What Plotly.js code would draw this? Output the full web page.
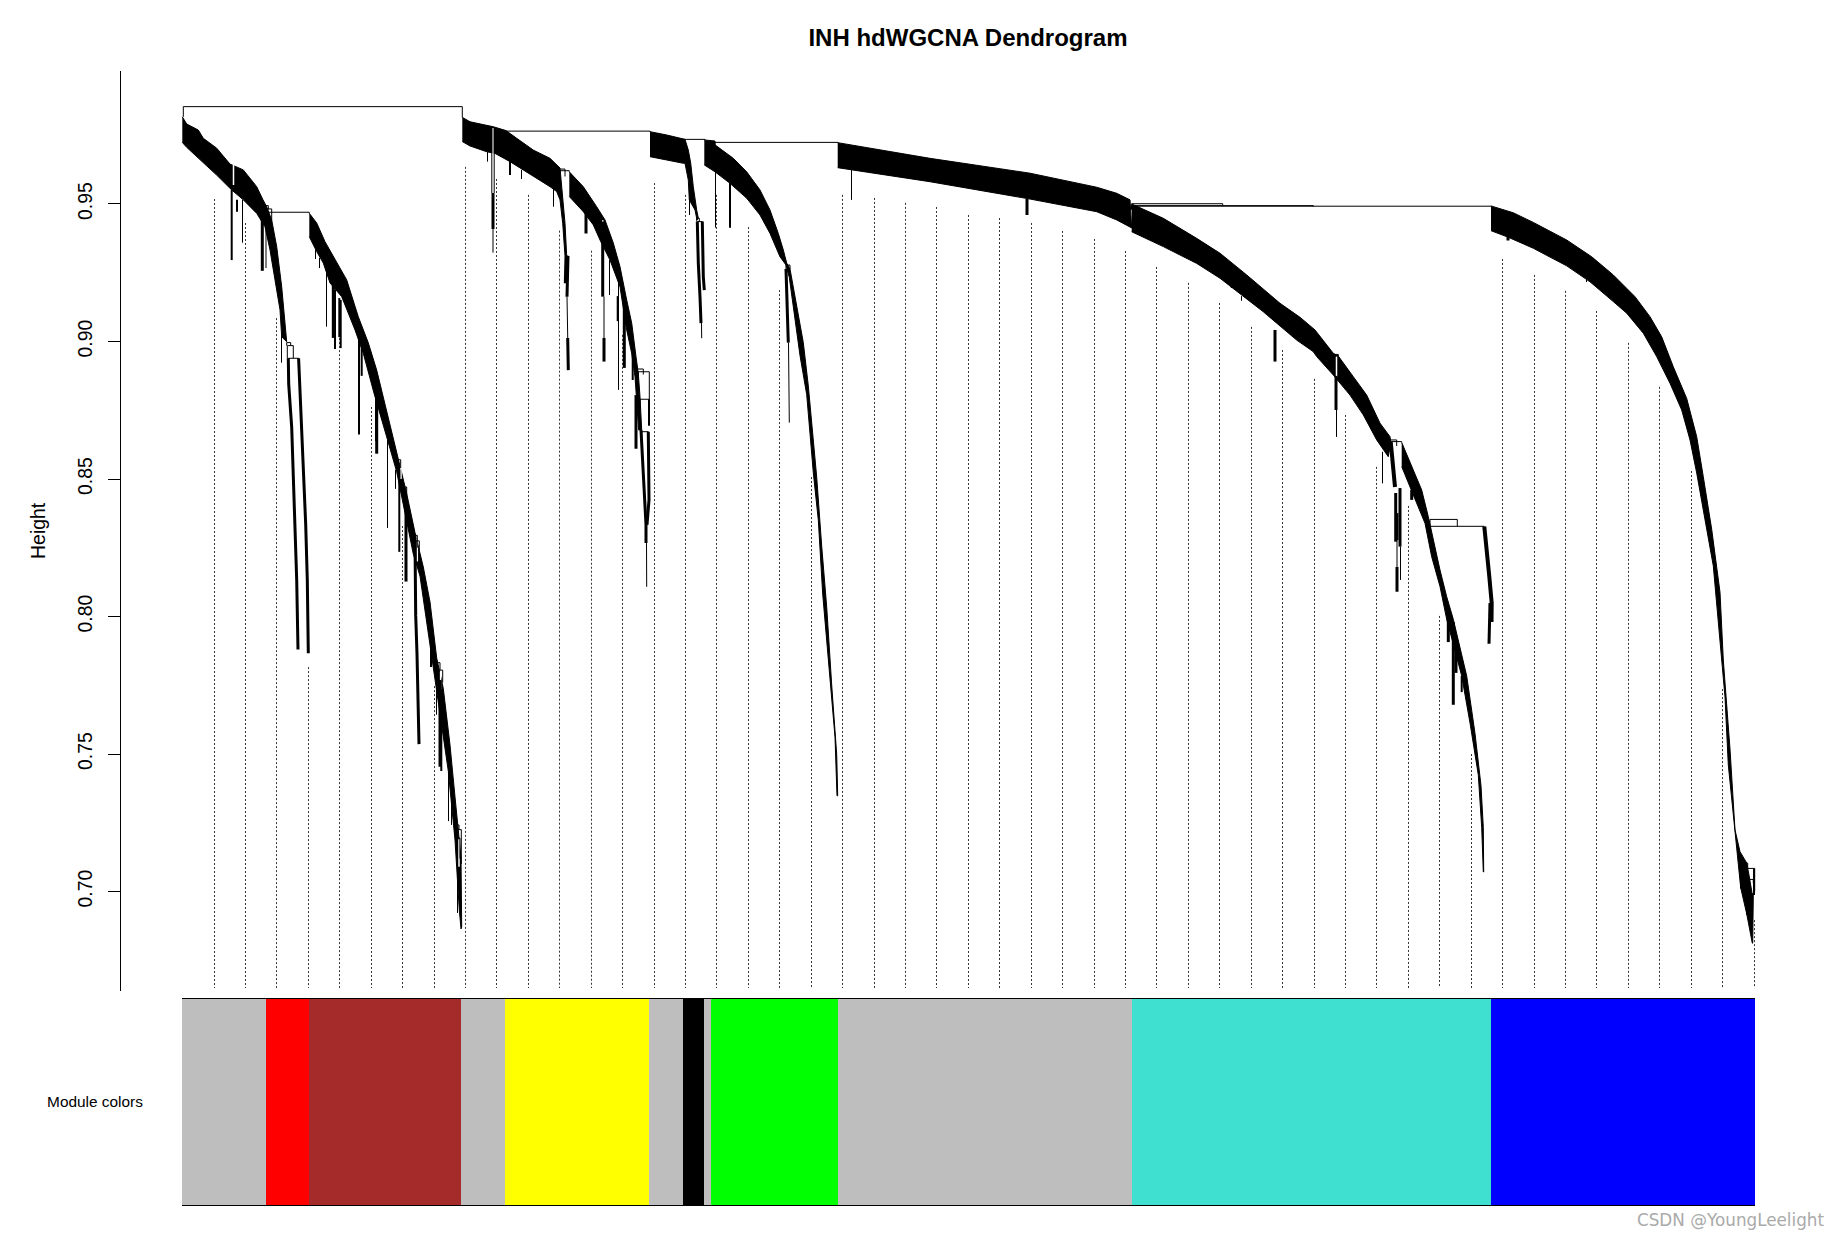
<!DOCTYPE html>
<html><head><meta charset="utf-8">
<script src="https://cdn.plot.ly/plotly-3.0.1.min.js"></script>
<style>html,body{margin:0;padding:0;background:#fff}#p{width:1841px;height:1238px}</style>
</head><body><div id="p"></div>
<script>
// ---- module colour band: widths along the gene order ----
const moduleWidths = [84,43,152,44,144,34,21,7,127,294,359,264];
const moduleColors = ['#BEBEBE','#FF0000','#A52A2A','#BEBEBE','#FFFF00','#BEBEBE','#000000','#BEBEBE','#00FF00','#BEBEBE','#40E0D0','#0000FF'];
const yTicks = [0.70,0.75,0.80,0.85,0.90,0.95];
const yTickText = ['0.70','0.75','0.80','0.85','0.90','0.95'];

// ---- dense branches: upper and lower envelope (gene order, height) ----
const aXTop=[0.3,4.7,16.3,21.3,34.7,48,61.3,74.7,81,84.7,89.7,94.7,99.7,103,104.7];
const aHTop=[.9817,.9791,.9769,.9739,.9703,.9645,.9624,.9563,.9515,.9490,.9442,.9345,.9199,.9078,.8999];
const aXBot=[.3,4.7,18,34.7,49.7,61.3,74.7,83,88,93,98,99.7];
const aHBot=[.9724,.9706,.9660,.9605,.9551,.9515,.9466,.9417,.9333,.9224,.9115,.9017];

const bXTop=[127.3,134.7,143,151.3,164.7,176.3,186.3,194.7,201.3,209.7,218,224.7,233,241.3,248,254.7,261.3,268,273,276.3,279,279.7];
const bHTop=[.9466,.9431,.9363,.9308,.9224,.9090,.8995,.8896,.8795,.8668,.8542,.8447,.8305,.8180,.8053,.7849,.7738,.7533,.7344,.7225,.7123,.6871];
const bXBot=[127.3,134.7,141.3,148,159.7,173,181.3,192,204.7,214.7,221.3,231.3,238,248,256.3,266.3,273,277.3,279];
const bHBot=[.9381,.9327,.9285,.9213,.9163,.9042,.8957,.8812,.8653,.8526,.8400,.8227,.8147,.7911,.7691,.7438,.7187,.6933,.6864];

const cXTop=[280.3,288,311.3,324,334.7,351.3,368,378,383,384.7];
const cHTop=[.9815,.9799,.9781,.9767,.9739,.9696,.9666,.9631,.9430,.9311];
const cXBot=[280.3,288,304.7,313,328,341.3,354.7,368,374.7,378,380.7,383];
const cHBot=[.9727,.9711,.9690,.9684,.9654,.9624,.9593,.9563,.9545,.9515,.9430,.9311];

const dXTop=[387.3,401.3,414.7,423,431.3,438,444.7,449.7,454,456.3,458,459.7];
const dHTop=[.9617,.9563,.9490,.9442,.9358,.9272,.9151,.9067,.8945,.8884,.8799,.8678];
const dXBot=[387.3,401.3,411.3,418,428,438,444.7,449.7,453,454,456.7];
const dHBot=[.9527,.9472,.9424,.9369,.9296,.9199,.9042,.8957,.8872,.8799,.8678];

const eXTop=[468,484.7,503,506.3,508.7,511.3,514.7,516.3];
const eHTop=[.9763,.9751,.9735,.9696,.9649,.9563,.9478,.9449];
const eXBot=[468,484.7,501.3,503,506.3,507.3,513,515];
const eHBot=[.9672,.9660,.9648,.9648,.9587,.9515,.9478,.9442];

const fXTop=[522.3,533,533,551.3,564.7,578,588,596.3,601.3,604.7,608,614.7,621.3,626.3,629.7,634.7,639.7,644.7,649.7,654.7,655.7];
const fHTop=[.9733,.9729,.9715,.9666,.9617,.9551,.9478,.9393,.9333,.9285,.9264,.9123,.8996,.8839,.8697,.8507,.8256,.8035,.7751,.7499,.7348];
const fXBot=[522.3,533,548,564.7,578,588,598,604,607.3,613,618,624.7,628,631.3,636.3,640.7,646.3,653,655];
const fHBot=[.9642,.9617,.9575,.9521,.9460,.9393,.9308,.9278,.9233,.9075,.8949,.8807,.8665,.8523,.8351,.8082,.7861,.7562,.7348];

const gXTop=[655.7,748,848,914.7,934.7,948];
const gHTop=[.9723,.9666,.9612,.9561,.9539,.9515];
const gXBot=[655.7,748,848,914.7,934.7,949.7];
const gHBot=[.9632,.9581,.9518,.9472,.9442,.9413];

const hXTop=[949.7,981.3,1014.7,1038,1064.7,1098,1118,1133,1151.3,1156.3,1171.3,1184.7,1198,1208,1208.7];
const hHTop=[.9500,.9448,.9375,.9321,.9242,.9139,.9088,.9042,.8957,.8947,.8872,.8805,.8703,.8654,.8636];
const hXBot=[949.7,981.3,1014.7,1038,1081.3,1114.7,1131.3,1134.7,1151.3,1168,1181.3,1194.7,1206.3];
const hHBot=[.9399,.9345,.9284,.9230,.9108,.9005,.8963,.8945,.8878,.8805,.8733,.8642,.8581];

const iXTop=[1219.7,1231.3,1239.7,1246.3,1251.3,1258,1264.7,1271.3,1284.7,1293,1299,1301.3,1301.7];
const iHTop=[.8633,.8533,.8460,.8363,.8278,.8169,.8072,.7990,.7784,.7575,.7385,.7233,.7071];
const iXBot=[1219.7,1228,1234.7,1243,1249.7,1258,1264.7,1279.7,1288,1296.3,1299.7,1301.3];
const iHBot=[.8545,.8472,.8412,.8339,.8217,.8109,.7990,.7784,.7613,.7424,.7233,.7071];

const jXTop=[1309,1331.3,1351.3,1384.7,1409.7,1431.3,1453,1468,1479.7,1491.3,1504.7,1514.7,1521.3,1529.7,1538,1541.3,1548,1553,1558,1564.7,1567,1570,1571.3,1571.3,1570.7];
const jHTop=[.9493,.9468,.9433,.9369,.9308,.9242,.9163,.9090,.9017,.8908,.8793,.8654,.8508,.8317,.8088,.7842,.7518,.7224,.7145,.7104,.7060,.6995,.6987,.6896,.6812];
const jXBot=[1309,1326.3,1351.3,1384.7,1408,1431.3,1444.7,1461.3,1474.7,1488,1499.7,1508,1514.7,1521.3,1531.3,1536.3,1543,1546.3,1552,1556.3,1558.7,1564.7,1568,1570.3];
const jHBot=[.9403,.9379,.9339,.9275,.9217,.9145,.9103,.9030,.8945,.8848,.8751,.8642,.8522,.8387,.8184,.7973,.7707,.7460,.7233,.7100,.7014,.6919,.6862,.6812];

// ---- side branches: [gene order, top height, bottom height] ----
const spikesThin=[[305.5,.9690,.9654],[339.5,.9624,.9591],[371.5,.9565,.9490],[311,.9409,.9323],[309.8,.9776,.9540],[312.2,.9776,.9540],[427.5,.9296,.9169],[436.5,.9289,.8824],[422,.9163,.9013],
 [60.5,.9515,.9359],[84,.9424,.9267],[99.5,.9020,.8923],[133.5,.9333,.9300],[137.5,.9304,.9267],[144.5,.9260,.9054],[193.5,.8813,.8638],[205.5,.8642,.8322],[213.5,.8533,.8464],[254.5,.7842,.7643],[266.5,.7438,.7256],[269.5,.7369,.7242],[275.5,.7187,.6922],
 [507.5,.9551,.9460],[669.5,.9635,.9515],[533.5,.9617,.9414],[1200.5,.8599,.8484],[1059.5,.9165,.9148],[1154.5,.8751,.8653],[1215,.8278,.8180],[1218.5,.8254,.8133],[1404.5,.9231,.9216],[1558.5,.7067,.7011],[1564.5,.6987,.6915]];
const spikesMid=[[49.7,.9551,.9296],[55,.9515,.9472],[153,.9187,.8973],[157.3,.9158,.9016],[158.7,.9151,.8976],[177,.9042,.8662],[179.7,.8987,.8875],[217.3,.8533,.8235],[249,.7987,.7816],[259.3,.7733,.7438],
 [328,.9656,.9605],[450.7,.8969,.8860],[435.7,.9165,.9074],[548,.9576,.9414],[1049.7,.9216,.9195],[1279.7,.7784,.7725],[467,.8790,.8694],[1572,.7084,.6987]];
const spikesThick=[[80.3,.9442,.9257],[151.3,.9205,.9013],[194.7,.8813,.8592],[224,.8405,.8127],[258,.7769,.7454],[311,.9540,.9409],[404,.9472,.9393],[420.7,.9435,.9163],[422,.9013,.8927],[442.3,.9165,.8904],[454,.8805,.8610],
 [845,.9518,.9460],[1093,.9042,.8927],[1154,.8875,.8751],[1213.7,.8449,.8272],[1215,.8376,.8278],[1215,.8180,.8090],[1218,.8467,.8254],[1229.7,.8460,.8424],[1266.3,.8024,.7907],[1271.3,.7980,.7679],[1274,.7915,.7795],[1326,.9380,.9367]];

// ---- steep strands below small merges: [[gene order, height], ...] ----
const strandA1=[[106.3,.8939],[106.7,.8845],[109.7,.8688],[112.3,.8419],[114.7,.8133],[116,.7880]];
const strandA2=[[116.6,.8939],[118.7,.8762],[120.7,.8544],[123.7,.8335],[125.3,.8133],[126.3,.7866]];
const strandB1=[[233,.8275],[233.7,.8005],[235,.7864],[237,.7536]];
const strandC1=[[384,.9311],[383.3,.9212]];
const strandC2=[[386,.9311],[385,.9163]];
const strandC3=[[385,.9163],[385.5,.9013],[386.3,.8896]];
const strandC4=[[385.7,.9013],[386.3,.8896]];
const strandD1=[[459,.8678],[461,.8533],[463,.8424],[464,.8333],[464,.8267]];
const strandD2=[[466.3,.8672],[467,.8424],[465,.8333]];
const strandD3=[[464.5,.8267],[464.7,.8108]];
const strandE1=[[515.3,.9436],[516.3,.9285],[518,.9163],[519,.9067]];
const strandE2=[[519.5,.9067],[519.7,.9012]];
const strandE3=[[520.3,.9436],[521.3,.9236],[522.3,.9187]];
const strandF1=[[604,.9264],[606.3,.8996]];
const strandF2=[[606.5,.8996],[607.3,.8705]];
const strandH1=[[1208.7,.8636],[1213,.8471]];
const strandI1=[[1302.3,.8327],[1304.7,.8254],[1307.3,.8145],[1309.7,.8049],[1309.5,.7980]];
const strandI2=[[1308,.8049],[1307,.7901]];

// ---- merges: [left, right, height, left leg end, right leg end] ----
const merges=[[1.3,280.3,.9854,.9817,.9815],[84.7,127.3,.9470,.9440,.9466],[83.7,86.3,.9494,.9470,.9480],[83.7,89.7,.9482,.9450,.9440],
 [104.7,108.7,.8996,.8985,.8985],[105.3,111.3,.8985,.8939,.8939],[106.3,116.7,.8939,.8900,.8900],
 [216.3,218.7,.8570,.8540,.8540],[222,224.7,.8471,.8440,.8440],[232,235.3,.8295,.8275,.8250],[233,237.3,.8275,.8240,.8240],
 [254.7,258,.7832,.7805,.7805],[257,260.7,.7805,.7760,.7760],[273,277,.7242,.7225,.7225],[275.3,279.3,.7225,.7100,.7100],[274.7,278,.7194,.7120,.7120],
 [324.7,468,.9765,.9740,.9763],[377,383,.9627,.9600,.9600],[378,387.3,.9621,.9590,.9617],[384,386.3,.9311,.9280,.9280],
 [418,422,.9445,.9420,.9420],[455.3,461.3,.8900,.8880,.8880],[456.3,467.3,.8890,.8860,.8790],[458,467.3,.8790,.8770,.8770],[459.7,466.3,.8672,.8650,.8650],
 [499.7,523,.9735,.9725,.9733],[514.7,517.3,.9448,.9436,.9436],[515.3,520.3,.9436,.9420,.9420],[533,656,.9724,.9715,.9723],[604,608,.9278,.9264,.9264],
 [949.7,1040.7,.9501,.9480,.9494],[949.7,1131.3,.9494,.9480,.9490],[949.7,1309,.9492,.9480,.9493],[1151.3,1156.3,.8953,.8900,.8947],
 [1208,1214.7,.8642,.8620,.8620],[1208,1219.7,.8636,.8600,.8633],[1248,1275.3,.8353,.8328,.8328],[1248,1302.3,.8328,.8300,.8327],
 [1563,1565.7,.7103,.7084,.7084],[1563.7,1572.7,.7084,.7060,.7000],[1566,1571.3,.7044,.7030,.7030]];

// ---- thin white openings inside merged boxes: [gene order, top, bottom] ----
const openings=[[51.5,.9642,.9569],[311,.9776,.9551],[235.3,.8290,.8200],[258.5,.7800,.7700],[277,.7190,.7090],[421,.9442,.9340],[1154.5,.8945,.8870],[219,.8560,.8500]];

// ---- dotted guide lines: gene order and top height ----
const guideX=[32.5,63.5,94.5,126.5,157.5,189.5,220.5,252.5,283.5,314.5,346.5,377.5,409.5,440.5,472.5,503.5,534.5,566.5,597.5,629.5,660.5,692.5,723.5,754.5,786.5,817.5,849.5,880.5,912.5,943.5,974.5,1006.5,1037.5,1069.5,1100.5,1132.5,1163.5,1194.5,1226.5,1257.5,1289.5,1320.5,1352.5,1383.5,1414.5,1446.5,1477.5,1509.5,1540.5,1572.5];
const guideTop=[.9518,.9431,.9085,.7816,.9085,.8762,.8329,.7747,.9635,.9591,.9533,.9403,.9330,.9024,.9576,.9533,.9533,.9416,.9187,.8507,.9533,.9522,.9504,.9489,.9460,.9449,.9431,.9402,.9373,.9329,.9271,.9213,.9140,.9053,.8969,.8864,.8733,.8544,.8402,.8002,.7500,.9300,.9242,.9184,.9111,.8995,.8835,.8529,.7736,.6896];
const guideBottom=0.6649;

// ---- builders ----
const W=1841,H=1238;
const traces=[];
moduleWidths.forEach((w,i)=>traces.push({type:'bar',orientation:'h',y:['Module colors'],x:[w],xaxis:'x2',yaxis:'y2',
  marker:{color:moduleColors[i],line:{width:0}},hoverinfo:'skip',showlegend:false}));

// guides
{const x=[],y=[];guideX.forEach((g,i)=>{x.push(g,g,null);y.push(guideTop[i],guideBottom,null);});
 traces.push({type:'scatter',mode:'lines',x,y,line:{color:'#333',width:1,dash:'2px,2px'},hoverinfo:'skip',showlegend:false});}

// bands
[[aXTop,aHTop,aXBot,aHBot],[bXTop,bHTop,bXBot,bHBot],[cXTop,cHTop,cXBot,cHBot],[dXTop,dHTop,dXBot,dHBot],[eXTop,eHTop,eXBot,eHBot],
 [fXTop,fHTop,fXBot,fHBot],[gXTop,gHTop,gXBot,gHBot],[hXTop,hHTop,hXBot,hHBot],[iXTop,iHTop,iXBot,iHBot],[jXTop,jHTop,jXBot,jHBot]]
 .forEach(b=>traces.push({type:'scatter',mode:'lines',x:b[0].concat(b[2].slice().reverse()),y:b[1].concat(b[3].slice().reverse()),
   fill:'toself',fillcolor:'#000',line:{color:'#000',width:1},hoverinfo:'skip',showlegend:false}));

function segs(list,width,color){const x=[],y=[];list.forEach(s=>{x.push(s[0],s[0],null);y.push(s[1],s[2],null);});
  traces.push({type:'scatter',mode:'lines',x,y,line:{color:color,width:width},hoverinfo:'skip',showlegend:false});}
function polys(list,width){const x=[],y=[];list.forEach(p=>{p.forEach(q=>{x.push(q[0]);y.push(q[1]);});x.push(null);y.push(null);});
  traces.push({type:'scatter',mode:'lines',x,y,line:{color:'#000',width:width},hoverinfo:'skip',showlegend:false});}

segs(openings,1.5,'#fff');
segs(spikesThin,1,'#000');segs(spikesMid,2,'#000');segs(spikesThick,3,'#000');
polys([strandA1,strandA2,strandB1,strandC1,strandC2,strandC4,strandD1,strandD2,strandE1,strandE3,strandF1,strandI2],3);
polys([strandH1,strandI1],4);
polys([strandC3,strandD3,strandE2,strandF2],1);
{const x=[],y=[];merges.forEach(m=>{x.push(m[0],m[0],m[1],m[1],null);y.push(m[3],m[2],m[2],m[4],null);});
 traces.push({type:'scatter',mode:'lines',x,y,line:{color:'#000',width:1},hoverinfo:'skip',showlegend:false});}

const layout={width:W,height:H,paper_bgcolor:'#fff',plot_bgcolor:'rgba(0,0,0,0)',showlegend:false,
 margin:{l:0,r:0,t:0,b:0,pad:0},barmode:'stack',bargap:0,
 font:{family:'"Liberation Sans",Arial,sans-serif',color:'#000'},
 title:{text:'<b>INH hdWGCNA Dendrogram</b>',font:{size:24,color:'#000'},x:968/W,xref:'paper',xanchor:'center',y:1-37.5/H,yref:'paper',yanchor:'middle'},
 xaxis:{domain:[121/W,1],range:[-61,1659],visible:false,fixedrange:true},
 yaxis:{domain:[1-990.7/H,1-71/H],range:[0.66393,0.99836],tickmode:'array',tickvals:yTicks,ticktext:yTickText,tickangle:-90,ticks:'outside',ticklen:12,tickwidth:1,tickcolor:'#000',
   showline:true,linecolor:'#000',linewidth:1,showgrid:false,zeroline:false,tickfont:{size:19.4},ticklabelstandoff:8,fixedrange:true,automargin:false,
   title:{text:'Height',font:{size:19.4},standoff:23}},
 xaxis2:{domain:[182/W,1755/W],range:[0,1573],anchor:'y2',showline:true,mirror:true,linecolor:'#000',linewidth:1,showticklabels:false,ticks:'',showgrid:false,zeroline:false,fixedrange:true},
 yaxis2:{domain:[1-1205/H,1-999/H],type:'category',range:[-0.5,0.5],anchor:'x2',showline:false,showgrid:false,zeroline:false,ticks:'outside',ticklen:35,tickcolor:'rgba(255,255,255,0)',tickfont:{size:15.4},fixedrange:true,automargin:false},
 annotations:[{text:'CSDN @YoungLeelight',xref:'paper',yref:'paper',x:1826/W,y:1-1220/H,xanchor:'right',yanchor:'middle',showarrow:false,font:{family:'"DejaVu Sans",sans-serif',size:16.8,color:'#aaaaaa'}}]
};
Plotly.newPlot('p',traces,layout,{displayModeBar:false,staticPlot:true});
</script></body></html>
